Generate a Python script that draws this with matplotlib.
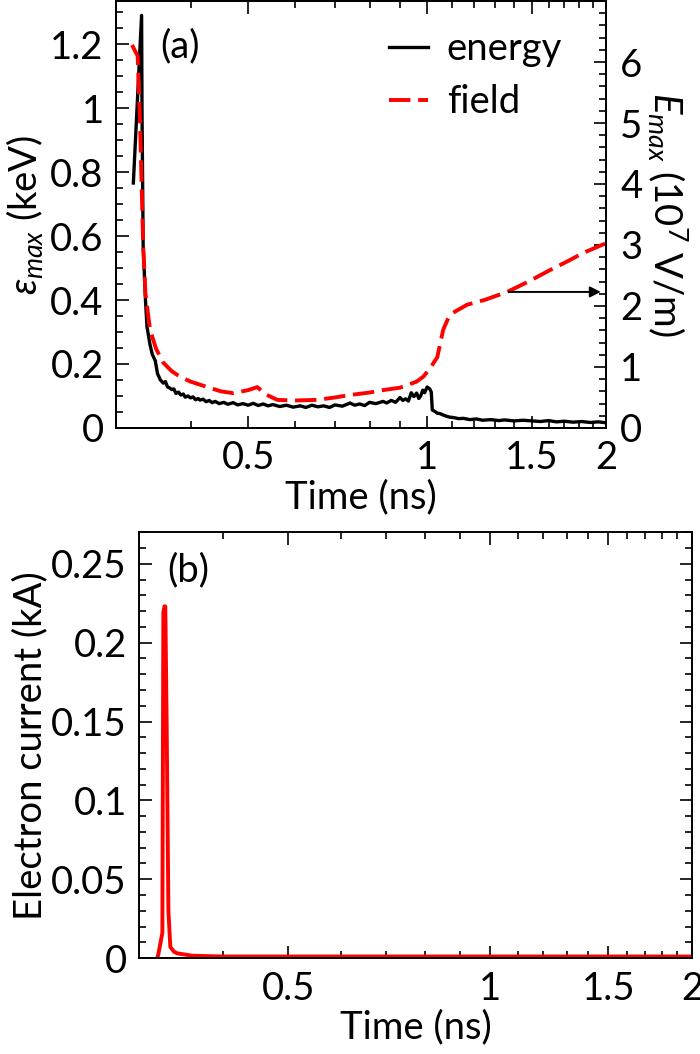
import numpy as np
import matplotlib.pyplot as plt
from matplotlib.ticker import FixedLocator, FormatStrFormatter, MultipleLocator, NullFormatter

plt.rcParams['font.family'] = ['Lato', 'DejaVu Sans']
plt.rcParams['mathtext.fontset'] = 'custom'
plt.rcParams['mathtext.rm'] = 'Lato'
plt.rcParams['mathtext.it'] = 'Lato:italic'

# panel (a): max electron energy (keV) and max field (1e7 V/m)
t_energy = [0.3206, 0.331, 0.3315, 0.333, 0.336, 0.338, 0.342, 0.345, 0.349, 0.352,
            0.356, 0.360, 0.363, 0.366, 0.369, 0.372, 0.375, 0.378, 0.382, 0.385,
            0.389, 0.392, 0.396, 0.400, 0.404, 0.408, 0.412, 0.415, 0.420, 0.425,
            0.430, 0.435, 0.440, 0.447, 0.455, 0.462, 0.472, 0.480, 0.490, 0.500,
            0.510, 0.520, 0.530, 0.540, 0.550, 0.565, 0.580, 0.595, 0.612, 0.625,
            0.640, 0.655, 0.670, 0.685, 0.700, 0.720, 0.742, 0.755, 0.770, 0.785,
            0.800, 0.820, 0.843, 0.855, 0.870, 0.885, 0.900, 0.910, 0.920, 0.930,
            0.940, 0.950, 0.960, 0.968, 0.975, 0.983, 0.990, 1.000, 1.010, 1.016,
            1.020, 1.030, 1.040, 1.050, 1.065, 1.080, 1.090, 1.110, 1.130, 1.150,
            1.180, 1.210, 1.240, 1.280, 1.320, 1.350, 1.400, 1.450, 1.500, 1.550,
            1.600, 1.650, 1.700, 1.760, 1.820, 1.880, 1.940, 2.000]
energy = [0.766, 1.29, 1.00, 0.57, 0.40, 0.316, 0.26, 0.23, 0.21, 0.17,
          0.15, 0.14, 0.145, 0.128, 0.125, 0.12, 0.122, 0.108, 0.112, 0.103,
          0.106, 0.096, 0.100, 0.094, 0.097, 0.088, 0.092, 0.087, 0.090, 0.082,
          0.086, 0.079, 0.083, 0.076, 0.080, 0.074, 0.079, 0.072, 0.076, 0.071,
          0.077, 0.070, 0.075, 0.069, 0.073, 0.067, 0.071, 0.065, 0.069, 0.064,
          0.071, 0.066, 0.069, 0.064, 0.072, 0.068, 0.078, 0.071, 0.075, 0.070,
          0.080, 0.076, 0.083, 0.078, 0.086, 0.080, 0.095, 0.086, 0.091, 0.084,
          0.110, 0.098, 0.109, 0.092, 0.100, 0.118, 0.110, 0.128, 0.122, 0.112,
          0.056, 0.052, 0.046, 0.045, 0.040, 0.036, 0.034, 0.032, 0.029, 0.030,
          0.026, 0.028, 0.024, 0.026, 0.023, 0.025, 0.022, 0.024, 0.022, 0.020,
          0.023, 0.019, 0.021, 0.018, 0.020, 0.017, 0.019, 0.016]

t_field = [0.319, 0.322, 0.326, 0.329, 0.331, 0.333, 0.336, 0.342, 0.350, 0.360,
           0.372, 0.384, 0.400, 0.427, 0.450, 0.472, 0.500, 0.518, 0.535, 0.560,
           0.600, 0.653, 0.700, 0.742, 0.800, 0.843, 0.900, 0.925, 0.960, 0.985,
           1.010, 1.040, 1.064, 1.085, 1.106, 1.167, 1.250, 1.363, 1.480, 1.610,
           1.720, 1.830, 2.000]
field = [6.28, 6.20, 6.10, 5.00, 4.00, 3.00, 2.20, 1.61, 1.30, 1.07,
         0.93, 0.84, 0.76, 0.67, 0.60, 0.57, 0.62, 0.67, 0.55, 0.46,
         0.45, 0.46, 0.50, 0.54, 0.58, 0.62, 0.66, 0.70, 0.76, 0.84,
         0.97, 1.16, 1.61, 1.80, 1.89, 2.02, 2.10, 2.23, 2.40, 2.59,
         2.73, 2.87, 3.03]

# panel (b): electron current (kA)
t_current = [0.319, 0.3201, 0.3247, 0.3258, 0.327, 0.328, 0.3295, 0.3315, 0.3337, 0.338,
             0.3418, 0.36, 0.40, 0.5, 0.7, 1.0, 1.5, 2.0]
current = [0.0, 0.002, 0.016, 0.219, 0.223, 0.223, 0.15, 0.03, 0.007, 0.004,
           0.003, 0.0015, 0.001, 0.001, 0.001, 0.001, 0.001, 0.001]

fs = 27.5
xmajor = [0.5, 1, 1.5, 2]
xminor = [0.4, 0.6, 0.7, 0.8, 0.9, 1.1, 1.2, 1.3, 1.4, 1.6, 1.7, 1.8, 1.9]


def style_x(ax):
    ax.set_xscale('log')
    ax.set_xlim(0.3, 2)
    ax.xaxis.set_major_locator(FixedLocator(xmajor))
    ax.xaxis.set_minor_locator(FixedLocator(xminor))
    ax.xaxis.set_major_formatter(FormatStrFormatter('%g'))
    ax.xaxis.set_minor_formatter(NullFormatter())
    ax.tick_params(axis='x', which='major', pad=9)
    ax.set_xlabel('Time (ns)', fontsize=fs, labelpad=2)
    for s in ax.spines.values():
        s.set_linewidth(1.4)


fig = plt.figure(figsize=(7, 10.54), dpi=100)

ax1 = fig.add_axes([0.166, 0.594, 0.700, 0.405])
style_x(ax1)
ax1.set_ylim(0, 1.335)
ax1.yaxis.set_major_locator(MultipleLocator(0.2))
ax1.yaxis.set_minor_locator(MultipleLocator(0.05))
ax1.yaxis.set_major_formatter(FormatStrFormatter('%g'))
ax1.tick_params(which='both', direction='in', top=True, right=False, labelsize=fs, width=1.2)
ax1.tick_params(which='major', length=9)
ax1.tick_params(which='minor', length=5)
ax1.tick_params(axis='y', which='major', pad=9)
ax1.set_ylabel(r'$\varepsilon_{max}$ (keV)', fontsize=fs, labelpad=4)
l1, = ax1.plot(t_energy, energy, color='black', lw=2.4, label='energy')

ax2 = ax1.twinx()
ax2.set_ylim(0, 7)
ax2.yaxis.set_major_locator(FixedLocator([0, 1, 2, 3, 4, 5, 6]))
ax2.yaxis.set_minor_locator(MultipleLocator(0.2))
ax2.tick_params(which='both', direction='in', labelsize=fs, width=1.2)
ax2.tick_params(which='major', length=9, pad=10)
ax2.tick_params(which='minor', length=5)
ax2.set_ylabel(r'$E_{max}$ (10$^7$ V/m)', fontsize=fs, rotation=270, labelpad=34)
l2, = ax2.plot(t_field, field, color='#ff0000', lw=2.8, dashes=(5.5, 2), label='field')
ax2.annotate('', xy=(1.98, 2.23), xytext=(1.357, 2.23),
             arrowprops=dict(arrowstyle='-|>', color='black', lw=1.4, mutation_scale=16))
for s in ax2.spines.values():
    s.set_linewidth(1.4)

ax1.legend([l1, l2], ['energy', 'field'], loc='upper right', frameon=False, fontsize=fs,
           handlelength=1.0, handletextpad=0.5, labelspacing=0.45,
           bbox_to_anchor=(0.98, 1.01))
ax1.text(0.09, 0.895, '(a)', transform=ax1.transAxes, fontsize=fs, va='center')

ax3 = fig.add_axes([0.199, 0.091, 0.790, 0.404])
style_x(ax3)
ax3.set_ylim(0, 0.27)
ax3.yaxis.set_major_locator(MultipleLocator(0.05))
ax3.yaxis.set_minor_locator(MultipleLocator(0.01))
ax3.yaxis.set_major_formatter(FormatStrFormatter('%g'))
ax3.tick_params(which='both', direction='in', top=True, right=True, labelsize=fs, width=1.2)
ax3.tick_params(which='major', length=9)
ax3.tick_params(which='minor', length=5)
ax3.tick_params(axis='y', which='major', pad=9)
ax3.set_ylabel('Electron current (kA)', fontsize=fs, labelpad=2)
ax3.plot(t_current, current, color='#ff0000', lw=2.8)
ax3.text(0.05, 0.91, '(b)', transform=ax3.transAxes, fontsize=fs, va='center')

fig.savefig('out.png', dpi=100)
